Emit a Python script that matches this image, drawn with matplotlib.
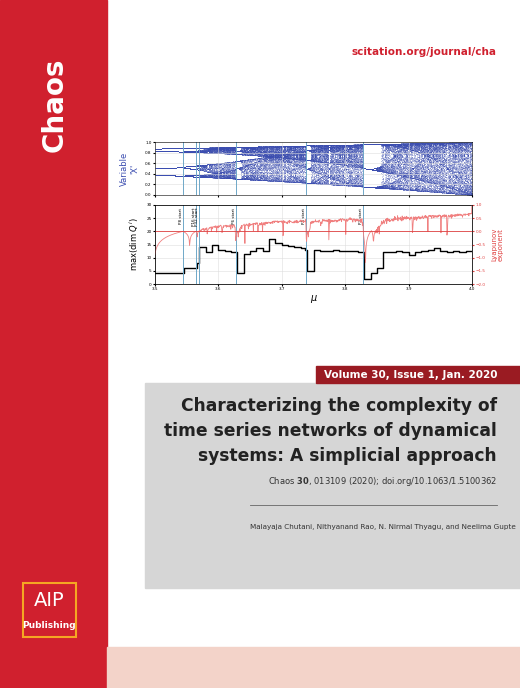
import numpy as np
import matplotlib
matplotlib.use("Agg")
import matplotlib.pyplot as plt
from matplotlib.patches import Rectangle

# ---- data ----
mu_min, mu_max = 3.5, 4.0
n_mu = 900
n_transient, n_keep = 300, 80
vlines = [3.544, 3.564, 3.569, 3.628, 3.738, 3.828]
vlabels = ["P8 start", "P16 start", "P32 start", "P6 start", "P5 start", "P3 start"]
# max(dim Q) (mu, value)
q_mu = [3.50, 3.544, 3.545, 3.564, 3.566, 3.57, 3.58, 3.59, 3.60, 3.61, 3.62, 3.627,
        3.63, 3.64, 3.65, 3.66, 3.67, 3.68, 3.69, 3.70, 3.71, 3.72, 3.73, 3.737,
        3.74, 3.75, 3.76, 3.77, 3.78, 3.79, 3.80, 3.81, 3.82, 3.828, 3.829, 3.84,
        3.85, 3.86, 3.87, 3.88, 3.89, 3.90, 3.91, 3.92, 3.93, 3.94, 3.95, 3.96,
        3.97, 3.98, 3.99, 4.0]
q_val = [4, 4, 6, 6, 8, 14, 12, 15, 13, 12.5, 12, 12,
         4, 11.5, 12.5, 13.5, 12.5, 17, 15.5, 15, 14.5, 14, 13.5, 13,
         5, 13, 12.5, 12.5, 13, 12.5, 12.5, 12.5, 12, 12, 2, 4,
         6, 12, 12, 12.5, 12, 11, 12, 12.5, 13, 13.5, 12.5, 12,
         12.5, 12, 12.5, 12.5]

mus = np.linspace(mu_min, mu_max, n_mu)
x = np.full(n_mu, 0.5)
for _ in range(n_transient):
    x = mus * x * (1 - x)
pts = []
lyap = np.zeros(n_mu)
for _ in range(n_keep):
    x = mus * x * (1 - x)
    pts.append(x.copy())
    lyap += np.log(np.abs(mus * (1 - 2 * x)) + 1e-12)
lyap /= n_keep
pts = np.array(pts)

RED = "#d0202e"
fig = plt.figure(figsize=(5.2, 6.88), dpi=100)
W, H = 520, 688
def fx(px): return px / W
def fy(py): return 1 - py / H

fig.patches.append(Rectangle((0, 0), fx(107), 1, transform=fig.transFigure, color=RED, zorder=0))
fig.patches.append(Rectangle((fx(107), 0), 1, fy(647), transform=fig.transFigure, color="#f3d3c9", zorder=0))
fig.patches.append(Rectangle((fx(145), fy(588)), 1, fy(383) - fy(588), transform=fig.transFigure, color="#d6d6d6", zorder=0))
fig.patches.append(Rectangle((fx(316), fy(383)), 1, fy(366) - fy(383), transform=fig.transFigure, color="#9a1b22", zorder=0))
fig.patches.append(Rectangle((fx(23), fy(637)), fx(53), fy(583) - fy(637), transform=fig.transFigure,
                             facecolor=RED, edgecolor="#f5a623", lw=1.5, zorder=1))
fig.text(fx(55), fy(105), "Chaos", rotation=90, color="white", fontsize=20, fontweight="bold", ha="center", va="center")
fig.text(fx(49), fy(600), "AIP", color="white", fontsize=14, ha="center", va="center")
fig.text(fx(49), fy(625), "Publishing", color="white", fontsize=6.5, fontweight="bold", ha="center", va="center")
fig.text(fx(497), fy(52), "scitation.org/journal/cha", color=RED, fontsize=7.5, fontweight="bold", ha="right", va="center")
fig.text(fx(497), fy(375), "Volume 30, Issue 1, Jan. 2020", color="white", fontsize=7.5, fontweight="bold", ha="right", va="center")
for i, line in enumerate(["Characterizing the complexity of", "time series networks of dynamical",
                          "systems: A simplicial approach"]):
    fig.text(fx(497), fy(406 + 25 * i), line, color="#222222", fontsize=12.3, fontweight="bold", ha="right", va="center")
fig.text(fx(497), fy(481), "Chaos $\\bf{30}$, 013109 (2020); doi.org/10.1063/1.5100362", color="#333333", fontsize=6, ha="right", va="center")
fig.add_artist(plt.Line2D([fx(250), fx(497)], [fy(505), fy(505)], color="#666666", lw=0.6))
fig.text(fx(250), fy(527), "Malayaja Chutani, Nithyanand Rao, N. Nirmal Thyagu, and Neelima Gupte", color="#333333", fontsize=5.2, ha="left", va="center")

ax1 = fig.add_axes([fx(155), fy(195), fx(472) - fx(155), fy(142) - fy(195)])
ax1.scatter(np.repeat(mus[None, :], n_keep, 0).ravel(), pts.ravel(), s=0.12, color="#3b4db0", alpha=0.6, lw=0)
ax1.set_xlim(mu_min, mu_max); ax1.set_ylim(0, 1)
ax1.set_xticks([3.5, 3.6, 3.7, 3.8, 3.9, 4.0]); ax1.set_xticklabels([])
ax1.set_yticks([0, 0.2, 0.4, 0.6, 0.8, 1.0]); ax1.set_yticklabels(["0.0", "0.2", "0.4", "0.6", "0.8", "1.0"])
ax1.grid(True, color="#dddddd", lw=0.4)
ax1.set_ylabel("Variable\n'X'", color="#3b4db0", fontsize=6)
for v in vlines:
    ax1.axvline(v, color="#6fa8c8", lw=0.7)

ax2 = fig.add_axes([fx(155), fy(284), fx(472) - fx(155), fy(205) - fy(284)])
ax2.step(q_mu, q_val, where="post", color="black", lw=1)
ax2.set_xlim(mu_min, mu_max); ax2.set_ylim(0, 30)
ax2.set_xticks([3.5, 3.6, 3.7, 3.8, 3.9, 4.0])
ax2.set_yticks([0, 5, 10, 15, 20, 25, 30])
ax2.set_ylabel("max(dim $Q^i$)", fontsize=6)
ax2.set_xlabel("$\\mu$", fontsize=7, labelpad=1)
ax2.grid(True, color="#dddddd", lw=0.4)
for v, lab in zip(vlines, vlabels):
    ax2.axvline(v, color="#6fa8c8", lw=0.7)
    ax2.text(v, 29, lab, rotation=90, fontsize=3, ha="right", va="top")
ax3 = ax2.twinx()
ax3.plot(mus, lyap, color="#f08080", lw=0.6)
ax3.axhline(0, color="#e04040", lw=0.6)
ax3.set_ylim(-2.0, 1.0)
ax3.set_yticks([-2.0, -1.5, -1.0, -0.5, 0.0, 0.5, 1.0])
ax3.set_ylabel("Lyapunov\nexponent", color="#e04040", fontsize=5)
ax3.tick_params(colors="#e04040", labelsize=3)
for a in (ax1, ax2):
    a.tick_params(labelsize=3, length=1.5, pad=1)
    a.yaxis.label.set_size(6)
ax3.tick_params(length=1.5, pad=1)
for a in (ax1, ax2, ax3):
    for s in a.spines.values():
        s.set_linewidth(0.4)

fig.savefig("out.png", dpi=100)
